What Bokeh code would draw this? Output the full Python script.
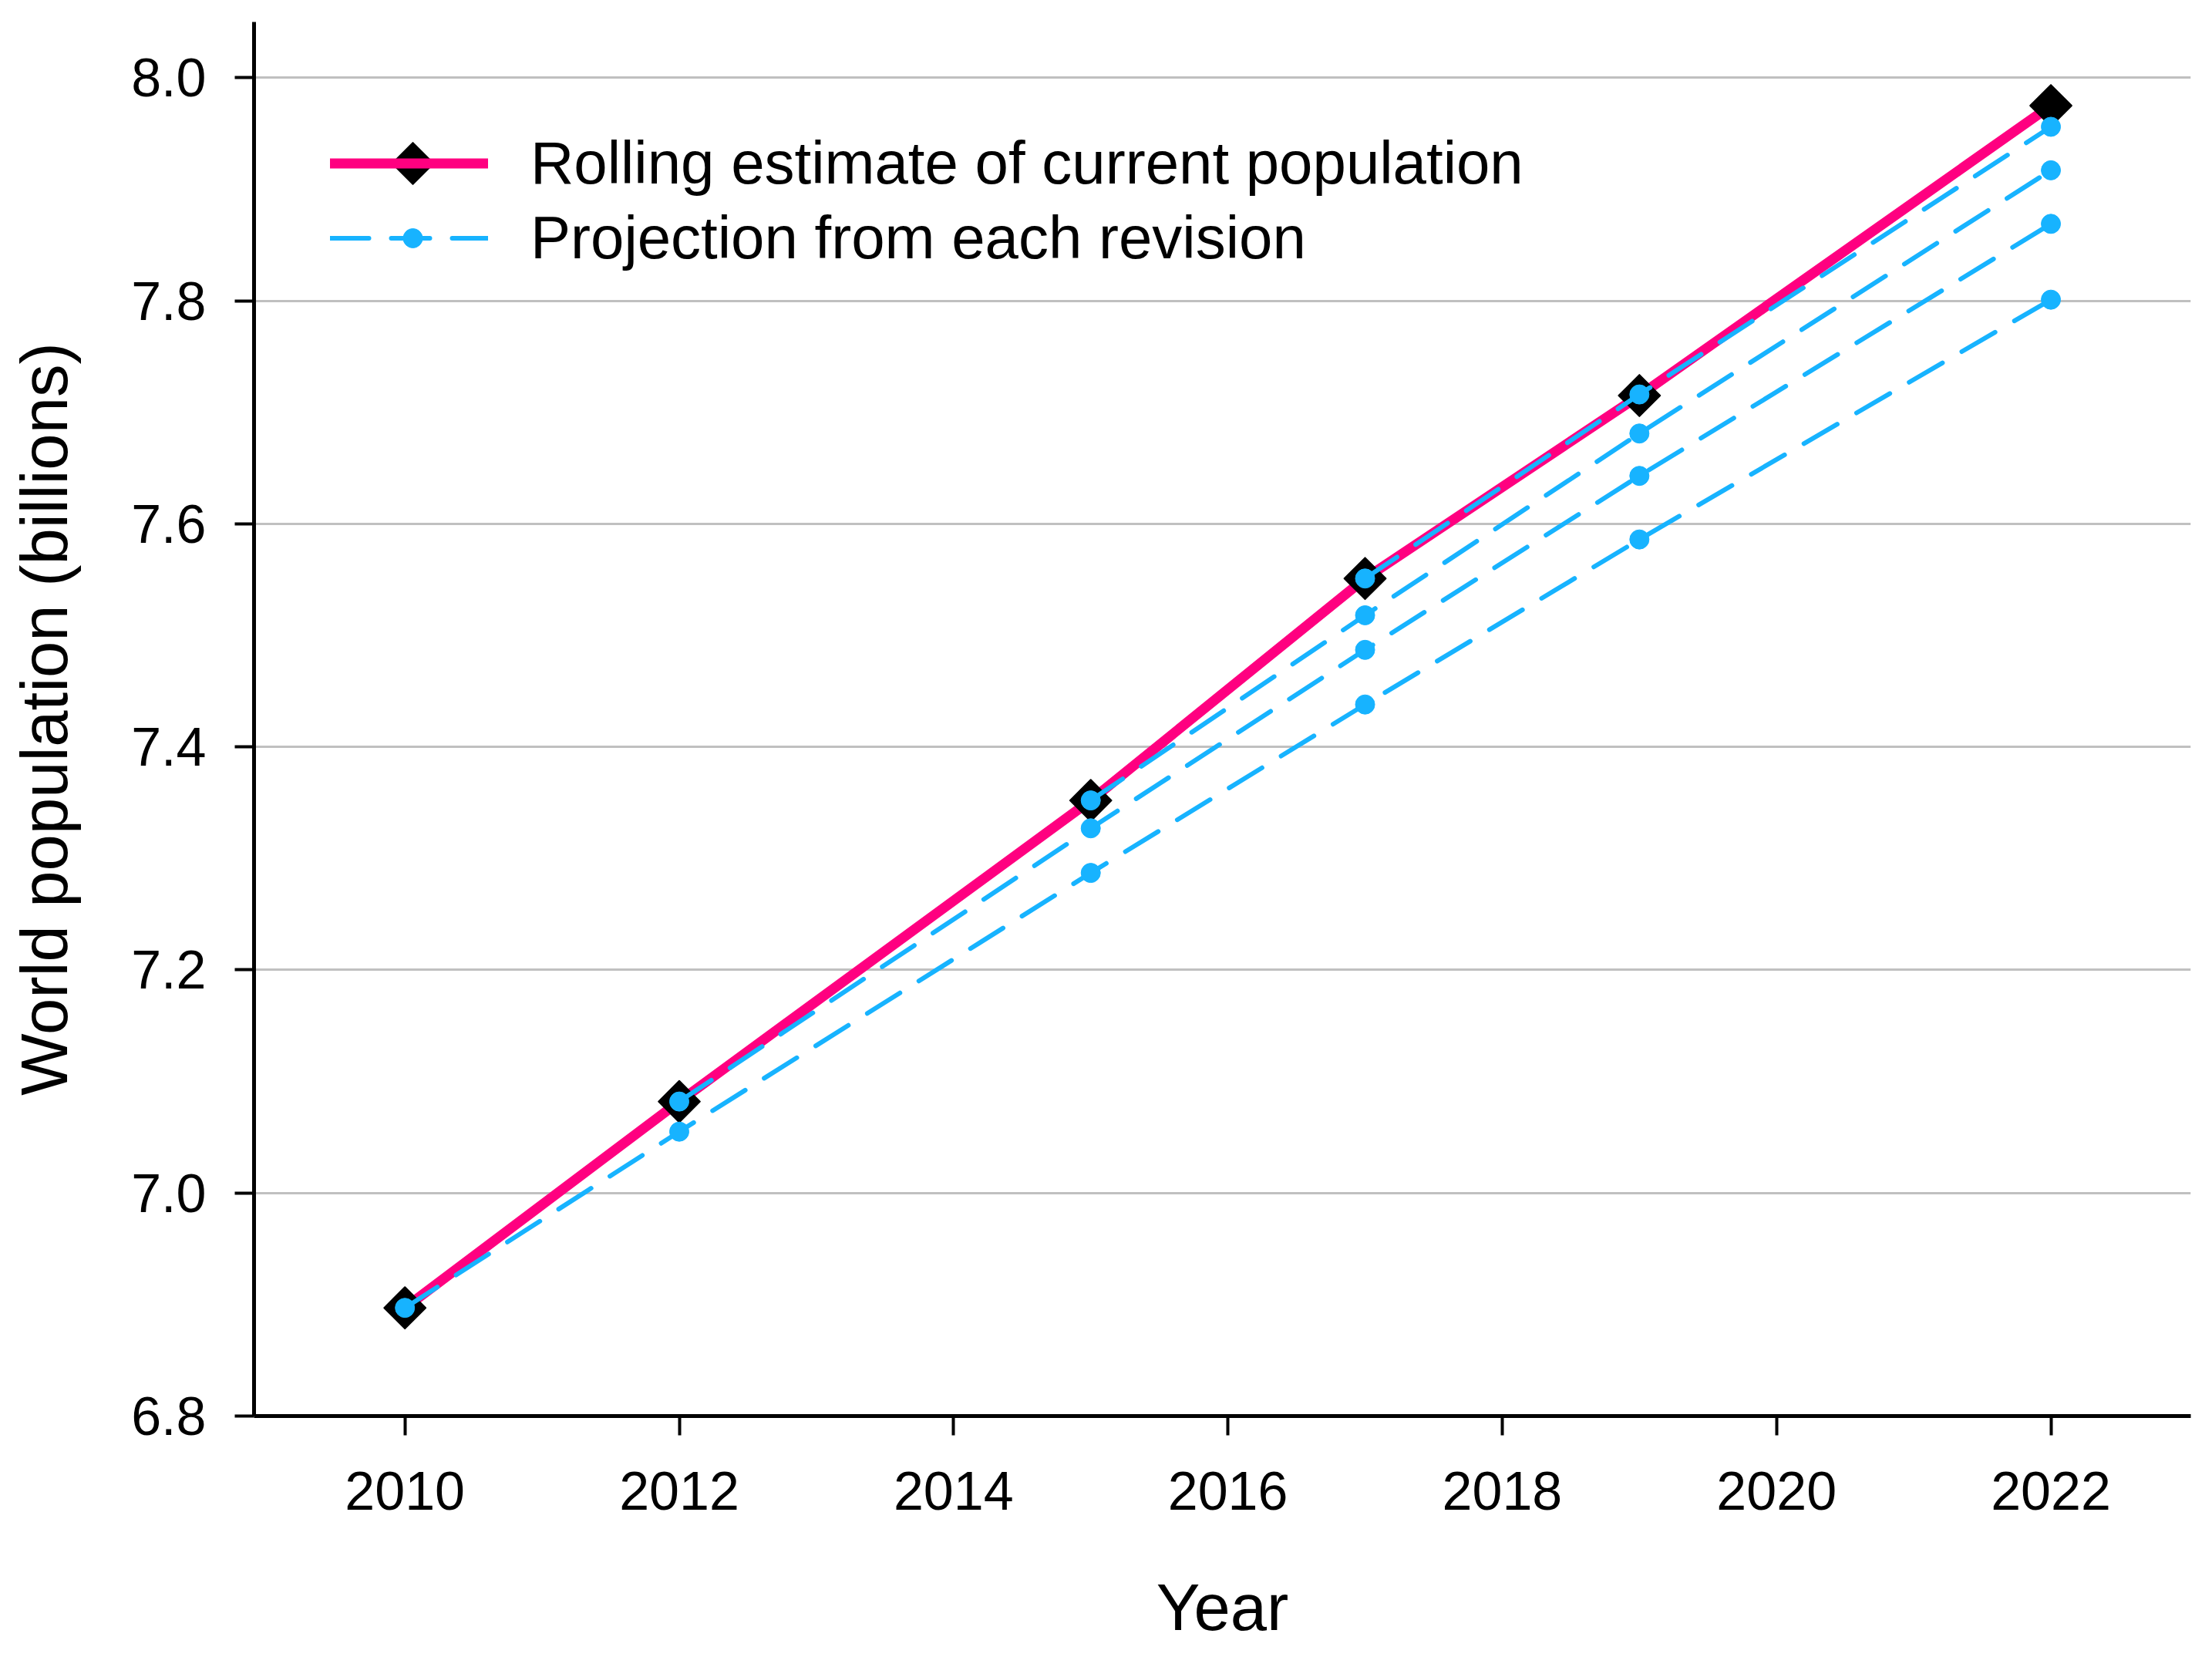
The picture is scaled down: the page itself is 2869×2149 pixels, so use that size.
import math
from bokeh.plotting import figure
from bokeh.models import Range1d, FixedTicker, CustomJSTickFormatter, Legend, LegendItem
from bokeh.embed import file_html
from bokeh.resources import INLINE

# ---------------- data ----------------
years = [2010, 2012, 2015, 2017, 2019, 2022]
rolling_estimate = [6.897, 7.082, 7.352, 7.551, 7.715, 7.975]

proj_2010_years = [2010, 2012, 2015, 2017, 2019, 2022]
proj_2010 = [6.897, 7.055, 7.287, 7.438, 7.586, 7.801]
proj_2012_years = [2012, 2015, 2017, 2019, 2022]
proj_2012 = [7.082, 7.327, 7.487, 7.643, 7.869]
proj_2015_years = [2015, 2017, 2019, 2022]
proj_2015 = [7.352, 7.518, 7.681, 7.917]
proj_2017_years = [2017, 2019, 2022]
proj_2017 = [7.551, 7.716, 7.956]

x_ticks = [2010, 2012, 2014, 2016, 2018, 2020, 2022]
y_ticks = [6.8, 7.0, 7.2, 7.4, 7.6, 7.8, 8.0]

label_estimate = "Rolling estimate of current population"
label_projection = "Projection from each revision"

# ---------------- layout / styles ----------------
PINK = "#FF0080"
BLUE = "#17B3FF"
FONT = "Liberation Sans"

W, H = 2861, 2141
B_LEFT, B_RIGHT, B_TOP, B_BOTTOM = 329, 20, 28, 305
FRAME_W = W - B_LEFT - B_RIGHT
FRAME_H = H - B_TOP - B_BOTTOM

p = figure(width=W, height=H, output_backend="svg", toolbar_location=None,
           x_range=Range1d(2008.9, 2023.02), y_range=Range1d(6.8, 8.05),
           min_border_left=B_LEFT, min_border_right=B_RIGHT,
           min_border_top=B_TOP, min_border_bottom=B_BOTTOM)
p.outline_line_color = None
p.background_fill_color = "white"
p.border_fill_color = "white"

p.xgrid.visible = False
p.ygrid.grid_line_color = "#C0C0C0"
p.ygrid.grid_line_width = 3
p.ygrid.ticker = FixedTicker(ticks=y_ticks)

p.xaxis.ticker = FixedTicker(ticks=x_ticks)
p.yaxis.ticker = FixedTicker(ticks=y_ticks)
p.yaxis.formatter = CustomJSTickFormatter(code="return tick.toFixed(1);")
p.xaxis.formatter = CustomJSTickFormatter(code="return tick.toFixed(0);")
p.xaxis.axis_label = "Year"
p.yaxis.axis_label = "World population (billions)"

for ax in (p.xaxis[0], p.yaxis[0]):
    ax.axis_line_width = 5
    ax.axis_line_color = "black"
    ax.major_tick_line_width = 4
    ax.major_tick_line_color = "black"
    ax.major_tick_out = 25
    ax.major_tick_in = 0
    ax.minor_tick_line_color = None
    ax.major_label_text_font = FONT
    ax.major_label_text_font_size = "70px"
    ax.major_label_text_color = "black"
    ax.axis_label_text_font = FONT
    ax.axis_label_text_font_size = "85px"
    ax.axis_label_text_font_style = "normal"
    ax.axis_label_text_color = "black"

p.xaxis.major_label_standoff = 47
p.yaxis.major_label_standoff = 37
p.xaxis.axis_label_standoff = 76
p.yaxis.axis_label_standoff = 62

# ---------------- glyphs ----------------
est_line = p.line(years, rolling_estimate, line_color=PINK, line_width=13,
                  line_cap="round", line_join="round")
est_marks = p.scatter(years, rolling_estimate, marker="square", size=38,
                      angle=math.pi / 4, fill_color="black", line_color="black",
                      line_width=2, line_join="round")

proj_sets = [(proj_2010_years, proj_2010), (proj_2012_years, proj_2012),
             (proj_2015_years, proj_2015), (proj_2017_years, proj_2017)]
proj_lines = []
for xs, ys in proj_sets:
    proj_lines.append(p.line(xs, ys, line_color=BLUE, line_width=6,
                             line_dash="50 29", line_cap="round"))
for xs, ys in proj_sets:
    p.scatter(xs, ys, marker="circle", size=25,
              fill_color=BLUE, line_color=BLUE, line_width=1)

# ---------------- legend ----------------
LEG_X, LEG_Y = 99, 1479          # legend box bottom-left, px from frame bottom-left
ROW_H = 97
legend = Legend(items=[
    LegendItem(label=label_estimate, renderers=[est_line]),
    LegendItem(label=label_projection, renderers=[proj_lines[0]]),
], location=(LEG_X, LEG_Y), orientation="vertical", padding=0, margin=0, spacing=0,
    glyph_width=205, glyph_height=ROW_H, label_height=ROW_H, label_standoff=55,
    label_text_font=FONT, label_text_font_size="78px", label_text_color="black",
    background_fill_alpha=0, border_line_color=None)
p.add_layout(legend)

# legend markers (drawn in frame-pixel coordinates so the diamond keeps its 45° turn)
p.extra_x_ranges = {"px": Range1d(0, FRAME_W)}
p.extra_y_ranges = {"px": Range1d(0, FRAME_H)}
mark_x = 206
row1_y = LEG_Y + 1.5 * ROW_H
row2_y = LEG_Y + 0.5 * ROW_H
p.scatter([mark_x], [row1_y], x_range_name="px", y_range_name="px", level="overlay",
          marker="square", size=38, angle=math.pi / 4, fill_color="black",
          line_color="black", line_width=2, line_join="round")
p.scatter([mark_x], [row2_y], x_range_name="px", y_range_name="px", level="overlay",
          marker="circle", size=25, fill_color=BLUE, line_color=BLUE, line_width=1)

open("out.html", "w").write(file_html(p, INLINE))
